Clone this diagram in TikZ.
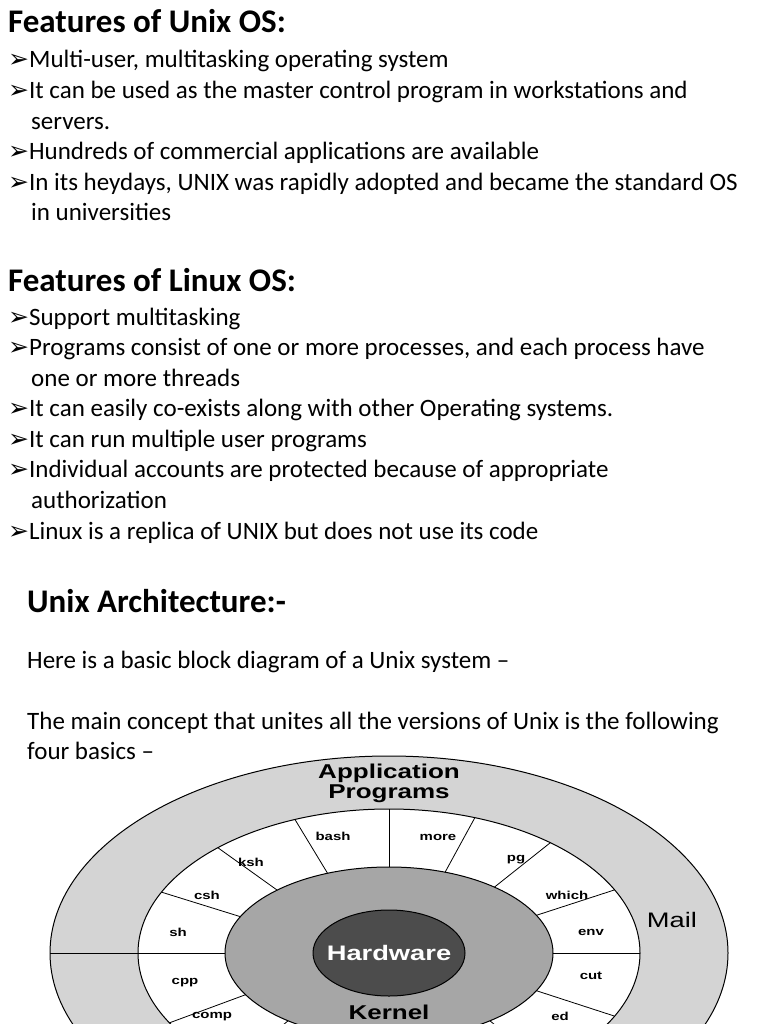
\documentclass[tikz,border=0pt]{standalone}
\usepackage{fontspec}
\setmainfont{Carlito}
\newfontfamily\arialf{Liberation Sans}
\newfontfamily\djv{DejaVu Sans}
\begin{document}
\begin{tikzpicture}[x=1pt,y=1pt,
  body/.style={anchor=base west,inner sep=0pt,font=\fontsize{25}{28}\selectfont},
  ttl/.style={anchor=base west,inner sep=0pt,font=\fontsize{33}{36}\selectfont\bfseries},
  big/.style={inner sep=0pt,xscale=1.3,font=\arialf\bfseries\fontsize{20}{22}\selectfont},
  sml/.style={inner sep=0pt,xscale=1.3,font=\arialf\bfseries\fontsize{11.5}{13}\selectfont}]
\newcommand{\bul}{{\djv\fontsize{25}{26}\selectfont ➢}}
\useasboundingbox (0,0) rectangle (768,-1024);
\fill[white] (0,0) rectangle (768,-1024);
\node[ttl] (t1) at (8,-33) {Features of Unix OS:};
\node[body] (u1) at (8,-68) {\bul Multi-user, multitasking operating system};
\node[body] (u2) at (8,-99) {\bul It can be used as the master control program in workstations and};
\node[body] (u2b) at (31,-130) {servers.};
\node[body] (u3) at (8,-160) {\bul Hundreds of commercial applications are available};
\node[body] (u4) at (8,-191) {\bul In its heydays, UNIX was rapidly adopted and became the standard OS};
\node[body] (u4b) at (31,-221) {in universities};
\node[ttl] (t2) at (8,-291) {Features of Linux OS:};
\node[body] (l1) at (8,-325) {\bul Support multitasking};
\node[body] (l2) at (8,-355) {\bul Programs consist of one or more processes, and each process have};
\node[body] (l2b) at (31,-386) {one or more threads};
\node[body] (l3) at (8,-416) {\bul It can easily co-exists along with other Operating systems.};
\node[body] (l4) at (8,-447) {\bul It can run multiple user programs};
\node[body] (l5) at (8,-477) {\bul Individual accounts are protected because of appropriate};
\node[body] (l5b) at (31,-508) {authorization};
\node[body] (l6) at (8,-539) {\bul Linux is a replica of UNIX but does not use its code};
\node[ttl] (t3) at (27,-612) {Unix Architecture:-};
\node[body] (a1) at (27,-668) {Here is a basic block diagram of a Unix system --};
\node[body] (a2) at (27,-729) {The main concept that unites all the versions of Unix is the following};
\node[body] (a3) at (27,-759) {four basics --};
\begin{scope}
\clip (0,-752) rectangle (768,-1024);
\begin{scope}[shift={(389,-953)}]
\filldraw[fill=black!17,draw=black,line width=1pt] (0,0) ellipse [x radius=339,y radius=197];
\filldraw[fill=white,draw=black,line width=1pt] (0,0) ellipse [x radius=251,y radius=144];
\filldraw[fill=black!35,draw=black,line width=1pt] (0,0) ellipse [x radius=164,y radius=86];
\filldraw[fill=black!70,draw=black,line width=1pt] (0,0) ellipse [x radius=76,y radius=43];
\foreach \t in {90,112,133,155,209,232,70,50,26,0,-26,-52}
  \draw[line width=0.8pt] ({164*cos(\t)},{86*sin(\t)}) -- ({251*cos(\t)},{144*sin(\t)});
\draw[line width=0.8pt] (-339,0) -- (-164,0);
\end{scope}
\end{scope}
\node[big] (app) at (389,-773) {Application};
\node[big] (prog) at (389,-794) {Programs};
\node[sml] (bash) at (333,-836) {bash};
\node[sml] (more) at (438,-837) {more};
\node[sml] (ksh) at (251,-862) {ksh};
\node[sml] (pg) at (516,-860) {pg};
\node[sml] (csh) at (207,-895) {csh};
\node[sml] (which) at (567,-895) {which};
\node[sml] (sh) at (178,-932) {sh};
\node[sml] (env) at (591,-932) {env};
\node[sml] (cpp) at (185,-983) {cpp};
\node[sml] (cut) at (591,-976) {cut};
\node[sml] (comp) at (212,-1017) {comp};
\node[sml] (ed) at (560,-1016) {ed};
\node[big,font=\arialf\fontsize{21}{23}\selectfont] (mail) at (672,-920) {Mail};
\node[big,text=white,font=\arialf\bfseries\fontsize{21}{23}\selectfont] (hw) at (389,-953) {Hardware};
\node[big,anchor=north] (kern) at (389,-1005) {Kernel};
\end{tikzpicture}
\end{document}
